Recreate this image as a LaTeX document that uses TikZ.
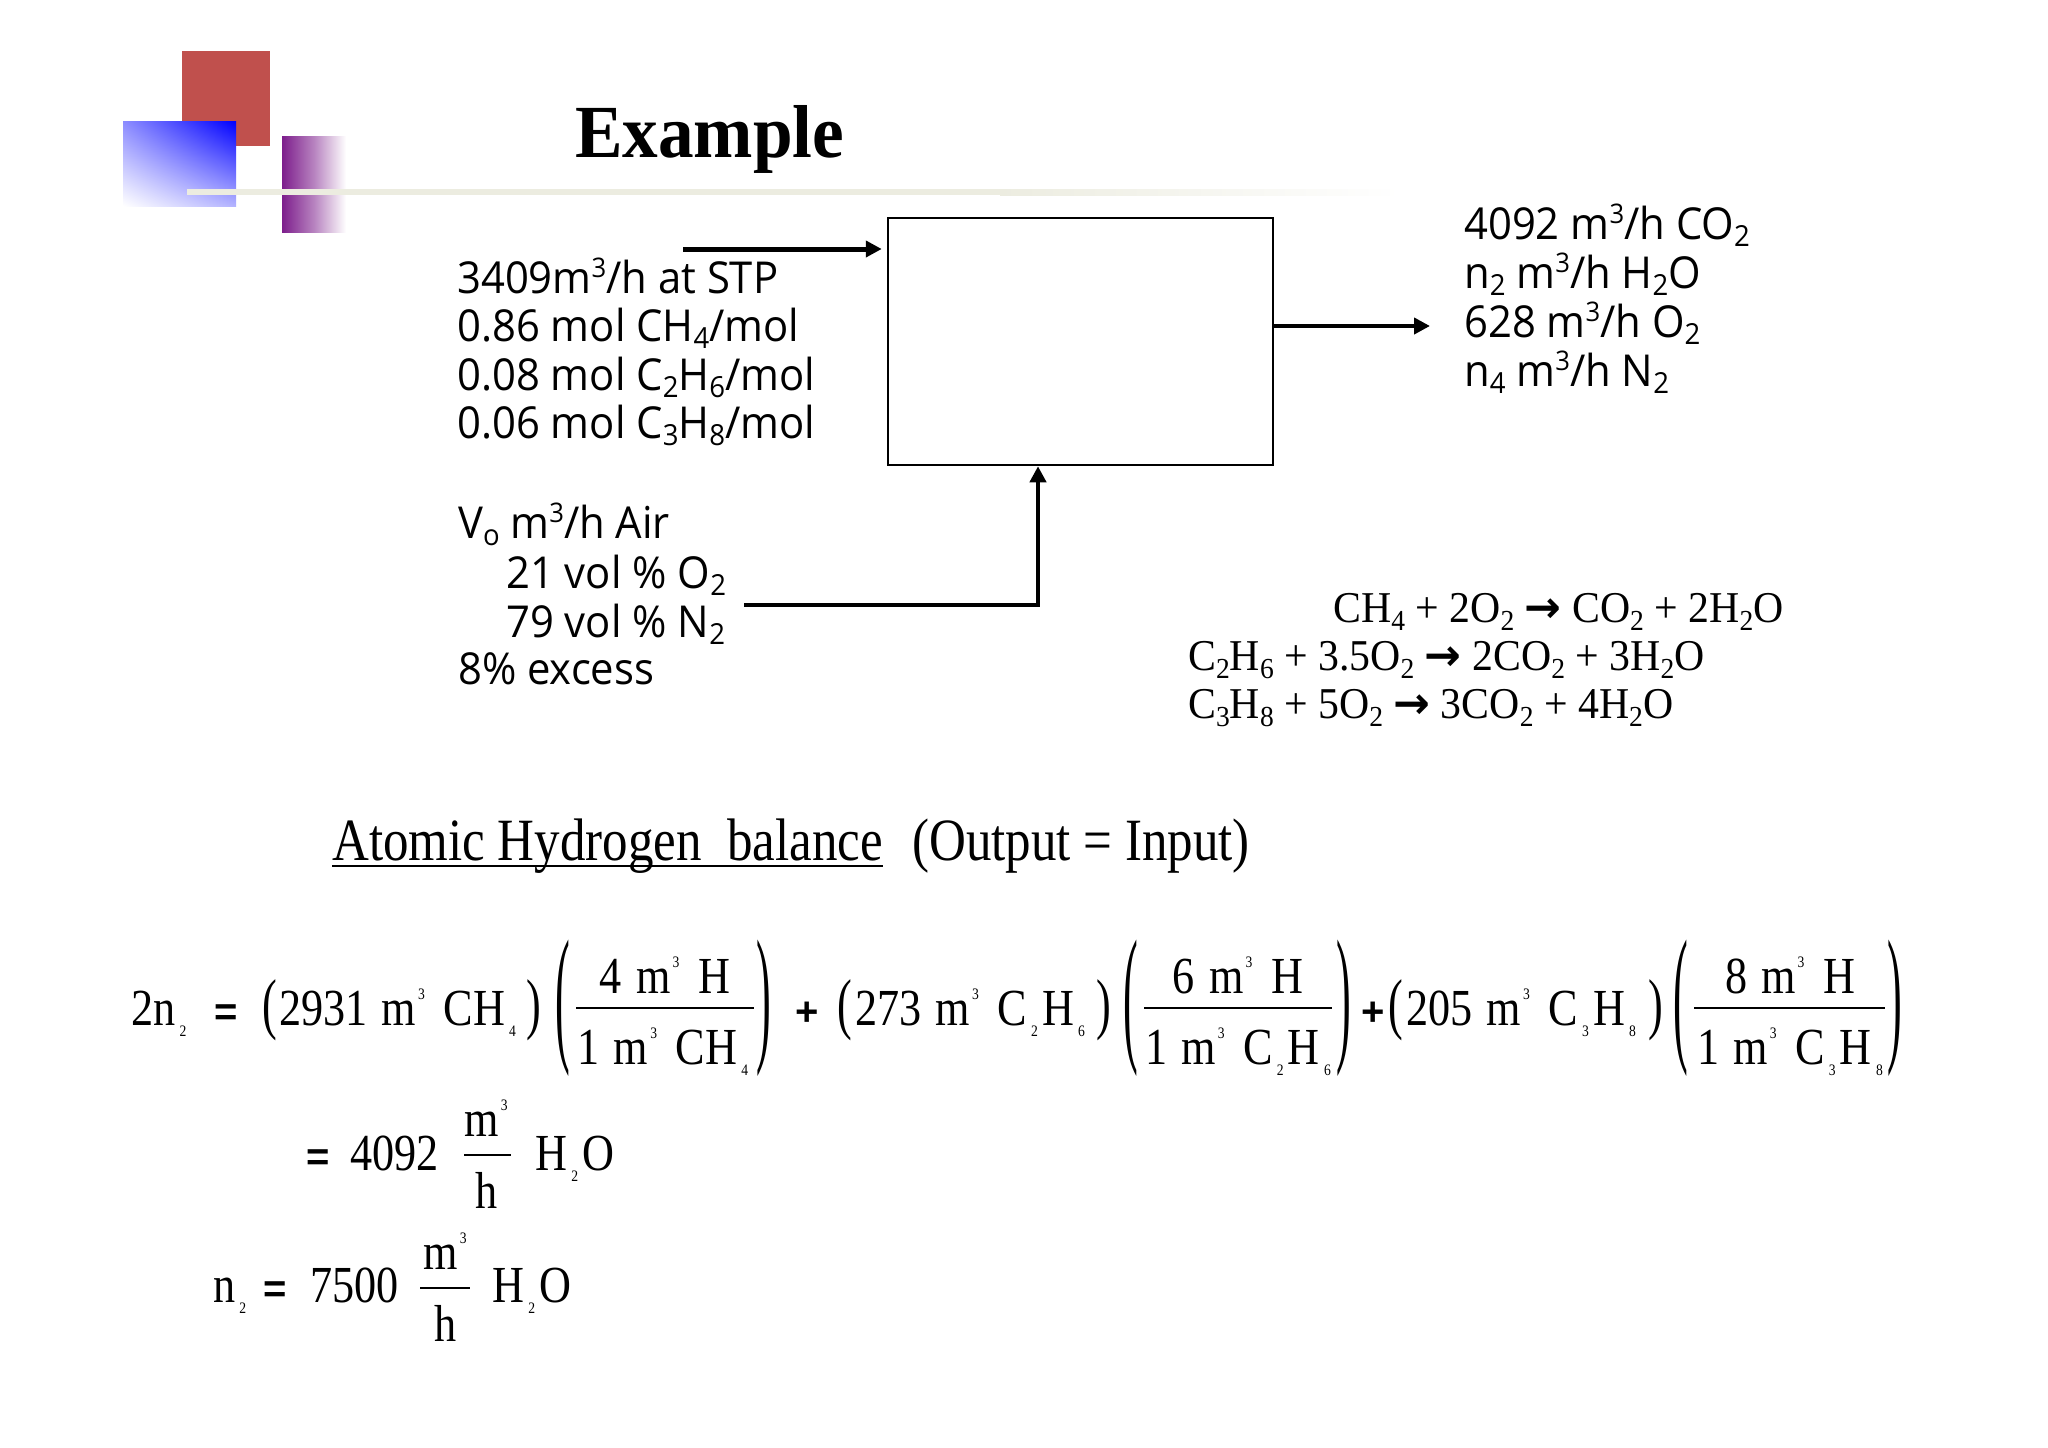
\documentclass[tikz,border=0pt]{standalone}
\usepackage{graphicx}
\usepackage{fontspec}
\setmainfont{Liberation Serif}
\newfontfamily\ttlf[FakeStretch=0.95]{Liberation Serif}
\newfontfamily\atof[FakeStretch=0.85]{Liberation Serif}
\newfontfamily\rxnf[FakeStretch=0.95]{Liberation Serif}
\newfontfamily\eqf[FakeStretch=0.85]{Liberation Serif}
\newfontfamily\handf[FakeStretch=0.95]{Open Sans}
\newfontfamily\opf{Liberation Sans}
\newfontfamily\arrf{DejaVu Sans}
\usetikzlibrary{arrows.meta,calc,shadings}
\newcommand\EQ{\eqf\fontsize{52}{52}\selectfont}
\newcommand\hsup[1]{\raisebox{0.36em}{\fontsize{27}{27}\selectfont #1}}
\newcommand\hsub[1]{\raisebox{-0.16em}{\fontsize{29}{29}\selectfont #1}}
\newcommand\rsb[1]{\raisebox{-0.2em}{\fontsize{29}{29}\selectfont #1}}
\newcommand\esb[1]{\hspace{0.08em}\raisebox{-0.22em}{\fontsize{16}{16}\selectfont #1}\hspace{0.08em}}
\newcommand\esp[1]{\hspace{0.04em}\raisebox{0.5em}{\fontsize{16}{16}\selectfont #1}}
\newcommand\ms{\hspace{0.27em}}
\newcommand\mb{\hspace{0.36em}}
\newcommand\rarr{{\arrf\bfseries\fontsize{44}{44}\selectfont →}}
\definecolor{redbox}{RGB}{192,80,77}
\definecolor{purp}{RGB}{125,30,140}
\definecolor{linec}{RGB}{236,236,224}
\begin{document}
\begin{tikzpicture}[x=1pt,y=-1pt,
  hand/.style={anchor=base west, inner sep=0pt, font=\handf\fontsize{44}{44}\selectfont},
  rx/.style={anchor=base west, inner sep=0pt, font=\rxnf\fontsize{44}{44}\selectfont},
  eqt/.style={anchor=base west, inner sep=0pt, font=\EQ},
  eqc/.style={anchor=base, inner sep=0pt, font=\EQ},
  op/.style={anchor=base west, inner sep=0pt, font=\opf\bfseries\fontsize{40}{40}\selectfont},
  paren/.style={anchor=center, inner sep=0pt, font=\EQ},
  flow/.style={line width=5pt, -{Triangle[length=16pt,width=16pt]}},
  fbar/.style={line width=2pt}]
\useasboundingbox (0,0) rectangle (2048,1448);
\fill[white] (0,0) rectangle (2048,1448);
% decoration
\fill[redbox] (182,51) rectangle (270,146);
\shade[upper left=blue!45!white, upper right=blue, lower left=white, lower right=blue!30!white] (123,121) rectangle (236,206);
\shade[left color=purp, right color=white, middle color=purp!55!white] (282,136) rectangle (346,232);
\fill[linec] (187,189) rectangle (1000,195);
\shade[left color=linec, right color=white] (1000,189) rectangle (1400,195);
% title
\node[anchor=base west, inner sep=0pt, font=\ttlf\bfseries\fontsize{75}{75}\selectfont] (title) at (575,157) {Example};
% process box
\node[draw, line width=2.5pt, minimum width=385pt, minimum height=247pt, inner sep=0pt] (box) at (1080.5,341.5) {};
% arrows
\coordinate (feedin) at (683,249);
\draw[flow] (feedin) -- ([xshift=-5pt]feedin -| box.west);
\coordinate (outend) at (1430,326);
\draw[flow, line width=4pt] (box.east |- outend) -- (outend);
\coordinate (airin) at (744,605);
\coordinate (airturn) at (1038,605);
\draw[flow, line width=4pt] (airin) -- (airturn) -- (airturn |- box.south);
% feed text
\node[hand] (f1) at (457,293) {3409m\hsup{3}/h at STP};
\node[hand] (f2) at (457,341) {0.86 mol CH\hsub{4}/mol};
\node[hand] (f3) at (457,390) {0.08 mol C\hsub{2}H\hsub{6}/mol};
\node[hand] (f4) at (457,438) {0.06 mol C\hsub{3}H\hsub{8}/mol};
% air text
\node[hand] (a1) at (458,538) {V\hsub{o} m\hsup{3}/h Air};
\node[hand] (a2) at (506,588) {21 vol \% O\hsub{2}};
\node[hand] (a3) at (506,637) {79 vol \% N\hsub{2}};
\node[hand] (a4) at (458,684) {8\% excess};
% output text
\node[hand] (o1) at (1464,239) {4092 m\hsup{3}/h CO\hsub{2}};
\node[hand] (o2) at (1464,288) {n\hsub{2} m\hsup{3}/h H\hsub{2}O};
\node[hand] (o3) at (1464,337) {628 m\hsup{3}/h O\hsub{2}};
\node[hand] (o4) at (1464,386) {n\hsub{4} m\hsup{3}/h N\hsub{2}};
% reactions
\node[rx] (r1) at (1333,622) {CH\rsb{4} + 2O\rsb{2} \rarr{} CO\rsb{2} + 2H\rsb{2}O};
\node[rx] (r2) at (1188,670) {C\rsb{2}H\rsb{6} + 3.5O\rsb{2} \rarr{} 2CO\rsb{2} + 3H\rsb{2}O};
\node[rx] (r3) at (1188,718) {C\rsb{3}H\rsb{8} + 5O\rsb{2} \rarr{} 3CO\rsb{2} + 4H\rsb{2}O};
% atomic hydrogen balance
\node[anchor=base west, inner sep=0pt, font=\atof\fontsize{60}{60}\selectfont] (ahb) at (332,860) {Atomic Hydrogen\ \ balance};
\draw[line width=2.5pt] ([yshift=-6pt]ahb.base west) -- ([yshift=-6pt]ahb.base east);
\node[anchor=base west, inner sep=0pt, font=\atof\fontsize{60}{60}\selectfont] (oi) at (912,860) {(Output = Input)};
% equation line 1
\node[eqt] (n2a) at (131,1025) {2n\esb{2}};
\node[op] (eqa) at (214,1025) {=};
\node[paren] (p1l) at (270,1010) {\scalebox{1}[1.3]{(}};
\node[eqt] (t1) at (279,1025) {2931\ms m\esp{3}\mb CH\esb{4}};
\node[paren] (p1r) at (534,1010) {\scalebox{1}[1.3]{)}};
\node[paren] (q1l) at (563,1008) {\scalebox{1}[2.9]{(}};
\coordinate (b1a) at (576,1008); \coordinate (b1b) at (754,1008);
\draw[fbar] (b1a) -- (b1b);
\node[eqc] (f1n) at (665,993) {4\ms m\esp{3}\mb H};
\node[eqc] (f1d) at (663,1064) {1\ms m\esp{3}\mb CH\esb{4}};
\node[paren] (q1r) at (764,1008) {\scalebox{1}[2.9]{)}};
\node[op] (pl1) at (795,1025) {+};
\node[paren] (p2l) at (845,1010) {\scalebox{1}[1.3]{(}};
\node[eqt] (t2) at (855,1025) {273\ms m\esp{3}\mb C\esb{2}H\esb{6}};
\node[paren] (p2r) at (1104,1010) {\scalebox{1}[1.3]{)}};
\node[paren] (q2l) at (1131,1008) {\scalebox{1}[2.9]{(}};
\coordinate (b2a) at (1144,1008); \coordinate (b2b) at (1332,1008);
\draw[fbar] (b2a) -- (b2b);
\node[eqc] (f2n) at (1238,993) {6\ms m\esp{3}\mb H};
\node[eqc] (f2d) at (1238,1064) {1\ms m\esp{3}\mb C\esb{2}H\esb{6}};
\node[paren] (q2r) at (1344,1008) {\scalebox{1}[2.9]{)}};
\node[op] (pl2) at (1361,1025) {+};
\node[paren] (p3l) at (1396,1010) {\scalebox{1}[1.3]{(}};
\node[eqt] (t3) at (1406,1025) {205\ms m\esp{3}\mb C\esb{3}H\esb{8}};
\node[paren] (p3r) at (1656,1010) {\scalebox{1}[1.3]{)}};
\node[paren] (q3l) at (1681,1008) {\scalebox{1}[2.9]{(}};
\coordinate (b3a) at (1694,1008); \coordinate (b3b) at (1885,1008);
\draw[fbar] (b3a) -- (b3b);
\node[eqc] (f3n) at (1790,993) {8\ms m\esp{3}\mb H};
\node[eqc] (f3d) at (1790,1064) {1\ms m\esp{3}\mb C\esb{3}H\esb{8}};
\node[paren] (q3r) at (1895,1008) {\scalebox{1}[2.9]{)}};
% equation line 2
\node[op] (eqb) at (306,1170) {=};
\node[eqt] (v1) at (350,1170) {4092};
\coordinate (b4a) at (464,1155); \coordinate (b4b) at (511,1155);
\draw[fbar] (b4a) -- (b4b);
\node[eqc] (u1n) at (486,1136) {m\esp{3}};
\node[eqc] (u1d) at (487,1208) {h};
\node[eqt] (w1) at (535,1170) {H\esb{2}O};
% equation line 3
\node[eqt] (n2b) at (213,1302) {n\esb{2}};
\node[op] (eqc3) at (263,1302) {=};
\node[eqt] (v2) at (310,1302) {7500};
\coordinate (b5a) at (420,1288); \coordinate (b5b) at (470,1288);
\draw[fbar] (b5a) -- (b5b);
\node[eqc] (u2n) at (445,1269) {m\esp{3}};
\node[eqc] (u2d) at (446,1341) {h};
\node[eqt] (w2) at (492,1302) {H\esb{2}O};
\end{tikzpicture}
\end{document}
